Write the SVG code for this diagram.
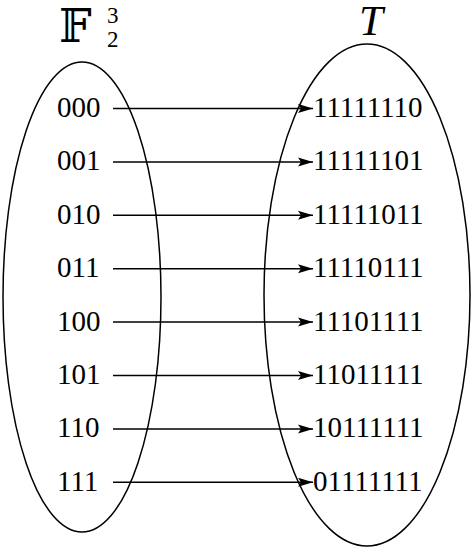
<svg xmlns="http://www.w3.org/2000/svg" width="475" height="547" viewBox="0 0 475 547">
<style>
.set{fill:none;stroke:#000;stroke-width:1.5}
.lbl{font-family:"Liberation Serif","Times New Roman",serif;font-size:29px;fill:#000}
.arr{stroke:#000;stroke-width:1.5;fill:none;marker-end:url(#ah)}
</style>
<defs>
<marker id="ah" markerUnits="userSpaceOnUse" markerWidth="16" markerHeight="10" refX="15" refY="5" orient="auto">
<path d="M0,0.5 L15,5 L0,9.5 L3,5 Z" fill="#000"/>
</marker>
</defs>
<rect width="475" height="547" fill="#fff"/>
<g id="setF">
<ellipse class="set" cx="82" cy="297" rx="79" ry="235"/>
<text x="59" y="42" style="font-family:'DejaVu Serif','DejaVu Sans',serif;font-size:46px">𝔽</text>
<text x="107" y="23" class="lbl" style="font-size:23px">3</text>
<text x="107" y="47" class="lbl" style="font-size:23px">2</text>
</g>
<g id="setT">
<ellipse class="set" cx="367" cy="295" rx="103" ry="251"/>
<text x="359" y="35" class="lbl" style="font-size:43px;font-style:italic">T</text>
</g>
<g id="domain">
<text class="lbl" x="57" y="117">000</text>
<text class="lbl" x="57" y="170.4">001</text>
<text class="lbl" x="57" y="223.8">010</text>
<text class="lbl" x="57" y="277.2">011</text>
<text class="lbl" x="57" y="330.6">100</text>
<text class="lbl" x="57" y="384">101</text>
<text class="lbl" x="57" y="437.4">110</text>
<text class="lbl" x="57" y="490.8">111</text>
</g>
<g id="codomain">
<text class="lbl" x="313" y="117">11111110</text>
<text class="lbl" x="313" y="170.4">11111101</text>
<text class="lbl" x="313" y="223.8">11111011</text>
<text class="lbl" x="313" y="277.2">11110111</text>
<text class="lbl" x="313" y="330.6">11101111</text>
<text class="lbl" x="313" y="384">11011111</text>
<text class="lbl" x="313" y="437.4">10111111</text>
<text class="lbl" x="313" y="490.8">01111111</text>
</g>
<g id="connectors">
<line class="arr" x1="113" y1="108.5" x2="313" y2="108.5"/>
<line class="arr" x1="113" y1="161.9" x2="313" y2="161.9"/>
<line class="arr" x1="113" y1="215.3" x2="313" y2="215.3"/>
<line class="arr" x1="113" y1="268.7" x2="313" y2="268.7"/>
<line class="arr" x1="113" y1="322.1" x2="313" y2="322.1"/>
<line class="arr" x1="113" y1="375.5" x2="313" y2="375.5"/>
<line class="arr" x1="113" y1="428.9" x2="313" y2="428.9"/>
<line class="arr" x1="113" y1="482.3" x2="313" y2="482.3"/>
</g>
</svg>
